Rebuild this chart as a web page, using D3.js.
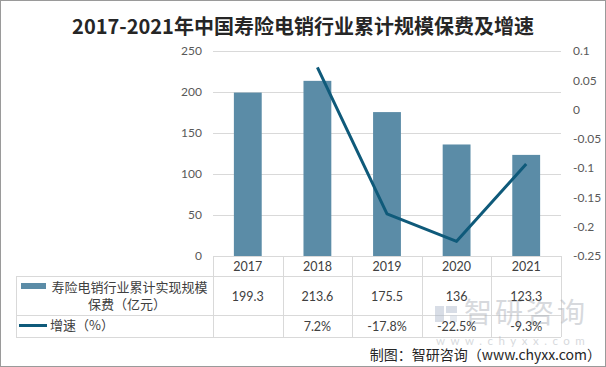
<!DOCTYPE html>
<html><head><meta charset="utf-8">
<script src="https://cdn.jsdelivr.net/npm/d3@7"></script>
<style>html,body{margin:0;padding:0;background:#fff;}svg{display:block;}</style>
</head><body>
<svg id="c" width="606" height="367"></svg>
<script>
const title = "2017-2021年中国寿险电销行业累计规模保费及增速";
const years = ["2017", "2018", "2019", "2020", "2021"];
const premiums = [199.3, 213.6, 175.5, 136, 123.3];
const growth = [null, 7.2, -17.8, -22.5, -9.3];
const leftTicks = [0, 50, 100, 150, 200, 250];
const rightTicks = [0.1, 0.05, 0, -0.05, -0.1, -0.15, -0.2, -0.25];
const seriesNames = ["寿险电销行业累计实现规模", "保费（亿元）", "增速（%）"];
const source = "制图：智研咨询（www.chyxx.com）";

(function () {
const svg = d3.select("#c");
const W = 606, H = 367;
const pL = 213, pR = 561, pT = 51, base = 256;
const rowTop = 276, rowMid = 315, rowBot = 337, tableLeft = 16;
const barColor = "#5b8ca7", lineColor = "#0f5a7a", grid = "#d9d9d9";
const cjk = "'Noto Sans CJK SC', 'Microsoft YaHei', sans-serif";
const num = "Lato, 'Noto Sans CJK SC', sans-serif";

svg.append("rect").attr("x", 0.5).attr("y", 0.5).attr("width", W - 1).attr("height", H - 1)
  .attr("fill", "#fff").attr("stroke", "#9a9a9a");

svg.append("text").attr("x", 303).attr("y", 34).attr("text-anchor", "middle")
  .attr("font-family", cjk).attr("font-weight", "bold").attr("font-size", 20)
  .attr("fill", "#262626").text(title);

const x = d3.scaleBand().domain(years).range([pL, pR]).paddingInner(0).paddingOuter(0);
const yL = d3.scaleLinear().domain([0, 250]).range([base, pT]);
const yR = d3.scaleLinear().domain([-0.25, 0.1]).range([base, pT]);

svg.append("g").selectAll("line").data(leftTicks.filter(d => d > 0)).join("line")
  .attr("x1", pL).attr("x2", pR).attr("y1", d => Math.round(yL(d)) + 0.5).attr("y2", d => Math.round(yL(d)) + 0.5)
  .attr("stroke", grid).attr("stroke-width", 1);

const axL = d3.axisLeft(yL).tickValues(leftTicks).tickSize(0).tickPadding(11);
const gL = svg.append("g").attr("transform", `translate(${pL},0)`).call(axL);
gL.select(".domain").remove();
gL.selectAll("text").attr("font-family", num).attr("font-size", 12).attr("fill", "#595959");

const axR = d3.axisRight(yR).tickValues(rightTicks).tickSize(0).tickPadding(12)
  .tickFormat(d => String(+d.toFixed(2)));
const gR = svg.append("g").attr("transform", `translate(${pR},0)`).call(axR);
gR.select(".domain").remove();
gR.selectAll("text").attr("font-family", num).attr("font-size", 12).attr("fill", "#595959");

const bw = x.bandwidth() * 0.4;
svg.append("g").selectAll("rect").data(premiums).join("rect")
  .attr("x", (d, i) => x(years[i]) + (x.bandwidth() - bw) / 2)
  .attr("width", bw)
  .attr("y", d => yL(d)).attr("height", d => base - yL(d))
  .attr("fill", barColor);

const pts = growth.map((g, i) => ({ i, g })).filter(d => d.g !== null);
const line = d3.line().x(d => x(years[d.i]) + x.bandwidth() / 2).y(d => yR(d.g / 100));
svg.append("path").datum(pts).attr("d", line).attr("fill", "none")
  .attr("stroke", lineColor).attr("stroke-width", 3).attr("stroke-linejoin", "round");

const tl = svg.append("g").attr("stroke", grid).attr("stroke-width", 1).attr("fill", "none");
tl.append("line").attr("x1", pL).attr("x2", pR).attr("y1", base + 0.5).attr("y2", base + 0.5);
[rowTop, rowMid, rowBot].forEach(yy => {
  tl.append("line").attr("x1", tableLeft).attr("x2", pR).attr("y1", yy + 0.5).attr("y2", yy + 0.5);
});
tl.append("line").attr("x1", tableLeft + 0.5).attr("x2", tableLeft + 0.5).attr("y1", rowTop).attr("y2", rowBot);
const bounds = years.map(y => x(y)).concat([pR]);
bounds.forEach(bx => {
  tl.append("line").attr("x1", Math.round(bx) + 0.5).attr("x2", Math.round(bx) + 0.5).attr("y1", base).attr("y2", rowBot);
});

// watermark (drawn beneath table texts)
const wm = svg.append("g").attr("opacity", 0.45);
wm.append("rect").attr("x", 435).attr("y", 306).attr("width", 9).attr("height", 16).attr("fill", "#a9b6c8");
wm.append("rect").attr("x", 446).attr("y", 306).attr("width", 11).attr("height", 7).attr("fill", "#a9b6c8");
wm.append("rect").attr("x", 450).attr("y", 315).attr("width", 7).attr("height", 7).attr("fill", "#c9d2de");
wm.append("text").attr("x", 464).attr("y", 323).attr("font-family", cjk).attr("font-size", 28)
  .attr("letter-spacing", 3).attr("fill", "#a8adb5").text("智研咨询");
wm.append("text").attr("x", 436).attr("y", 345).attr("font-family", num).attr("font-size", 11.5)
  .attr("letter-spacing", 5.5).attr("fill", "#a8adb5").text("www.chyxx.com");

svg.append("g").selectAll("text").data(years).join("text")
  .attr("x", d => x(d) + x.bandwidth() / 2).attr("y", 270.5).attr("text-anchor", "middle")
  .attr("font-family", num).attr("font-size", 12.5).attr("fill", "#404040").text(d => d);

svg.append("g").selectAll("text").data(premiums).join("text")
  .attr("x", (d, i) => x(years[i]) + x.bandwidth() / 2).attr("y", 300.5).attr("text-anchor", "middle")
  .attr("font-family", num).attr("font-size", 12.5).attr("fill", "#404040").text(d => d);
svg.append("g").selectAll("text").data(growth).join("text")
  .attr("x", (d, i) => x(years[i]) + x.bandwidth() / 2).attr("y", 331).attr("text-anchor", "middle")
  .attr("font-family", num).attr("font-size", 12.5).attr("fill", "#404040").text(d => d === null ? "" : d.toFixed(1) + "%");

svg.append("rect").attr("x", 21).attr("y", 283).attr("width", 25).attr("height", 6).attr("fill", barColor);
svg.append("line").attr("x1", 19).attr("x2", 47).attr("y1", 325.5).attr("y2", 325.5)
  .attr("stroke", lineColor).attr("stroke-width", 3);
svg.append("text").attr("x", 129.5).attr("y", 292).attr("text-anchor", "middle")
  .attr("font-family", cjk).attr("font-size", 13).attr("fill", "#404040").text(seriesNames[0]);
svg.append("text").attr("x", 127).attr("y", 309).attr("text-anchor", "middle")
  .attr("font-family", cjk).attr("font-size", 13).attr("fill", "#404040").text(seriesNames[1]);
svg.append("text").attr("x", 50).attr("y", 330).attr("text-anchor", "start")
  .attr("font-family", cjk).attr("font-size", 13).attr("fill", "#404040").text(seriesNames[2]);

svg.append("text").attr("x", 601).attr("y", 360).attr("text-anchor", "end")
  .attr("font-family", cjk).attr("font-size", 14).attr("fill", "#262626").text(source);
})();
</script>
</body></html>
